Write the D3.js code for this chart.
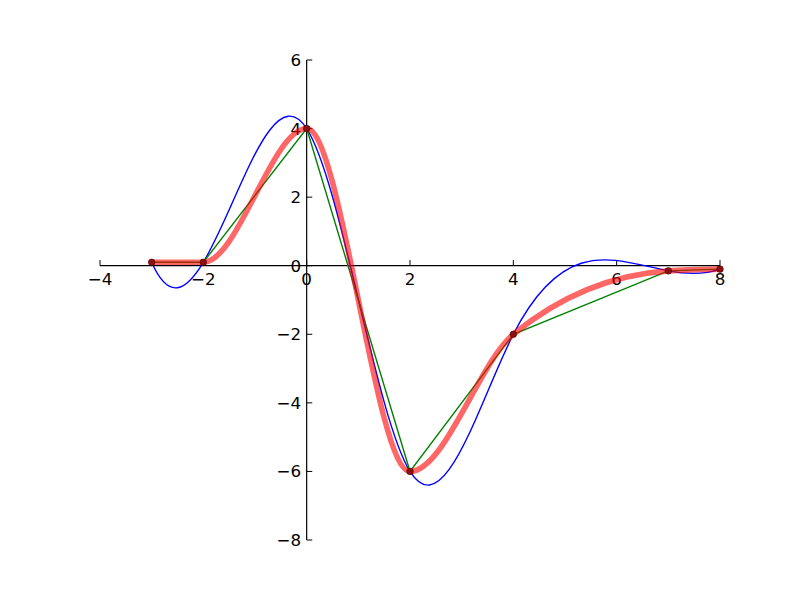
<!DOCTYPE html>
<html><head><meta charset="utf-8">
<script src="https://cdn.jsdelivr.net/npm/d3@7"></script>
<style>body{margin:0;background:#fff}svg{display:block}</style>
</head><body>
<script>
const xs = [-3, -2, 0, 2, 4, 7, 8];
const ys = [0.1, 0.1, 4, -6, -2, -0.15, -0.1];
const xTicks = [-4, -2, 0, 2, 4, 6, 8];
const yTicks = [-8, -6, -4, -2, 0, 2, 4, 6];

// custom D3 curve: not-a-knot cubic spline
function CurveNotAKnot(context) { this._context = context; }
CurveNotAKnot.prototype = {
  areaStart() { this._line = 0; },
  areaEnd() { this._line = NaN; },
  lineStart() { this._x = []; this._y = []; },
  point(px, py) { this._x.push(+px); this._y.push(+py); },
  lineEnd() {
    const X = this._x, Y = this._y, n = X.length, c = this._context;
    if (n < 4) { c.moveTo(X[0], Y[0]); for (let i = 1; i < n; i++) c.lineTo(X[i], Y[i]); return; }
    const h = []; for (let i = 0; i < n - 1; i++) h.push(X[i + 1] - X[i]);
    const A = Array.from({length: n}, () => new Array(n + 1).fill(0));
    A[0][0] = h[1]; A[0][1] = -(h[0] + h[1]); A[0][2] = h[0];
    for (let i = 1; i < n - 1; i++) {
      A[i][i - 1] = h[i - 1]; A[i][i] = 2 * (h[i - 1] + h[i]); A[i][i + 1] = h[i];
      A[i][n] = 6 * ((Y[i + 1] - Y[i]) / h[i] - (Y[i] - Y[i - 1]) / h[i - 1]);
    }
    A[n - 1][n - 3] = h[n - 2]; A[n - 1][n - 2] = -(h[n - 3] + h[n - 2]); A[n - 1][n - 1] = h[n - 3];
    for (let col = 0; col < n; col++) {
      let p = col; for (let r = col + 1; r < n; r++) if (Math.abs(A[r][col]) > Math.abs(A[p][col])) p = r;
      [A[col], A[p]] = [A[p], A[col]];
      for (let r = 0; r < n; r++) if (r !== col) {
        const f = A[r][col] / A[col][col];
        for (let k = col; k <= n; k++) A[r][k] -= f * A[col][k];
      }
    }
    const M = A.map((row, i) => row[n] / row[i]);
    c.moveTo(X[0], Y[0]);
    for (let i = 0; i < n - 1; i++) {
      const s = (Y[i + 1] - Y[i]) / h[i];
      const d0 = s - h[i] * (2 * M[i] + M[i + 1]) / 6;
      const d1 = s + h[i] * (M[i] + 2 * M[i + 1]) / 6;
      c.bezierCurveTo(X[i] + h[i] / 3, Y[i] + d0 * h[i] / 3, X[i + 1] - h[i] / 3, Y[i + 1] - d1 * h[i] / 3, X[i + 1], Y[i + 1]);
    }
  }
};
const curveNotAKnot = ctx => new CurveNotAKnot(ctx);

const W = 800, H = 600;
const svg = d3.select("body").append("svg").attr("width", W).attr("height", H);
const x = d3.scaleLinear().domain([-4, 8]).range([100, 720]);
const y = d3.scaleLinear().domain([-8, 6]).range([540, 60]);
const pts = xs.map((v, i) => [v, ys[i]]);
const line = c => d3.line().x(d => x(d[0])).y(d => y(d[1])).curve(c);

const font = "DejaVu Sans, sans-serif";
const fs = 16.7;
const fmt = v => (v < 0 ? "\u2212" + Math.abs(v) : String(v));

// spines
svg.append("line").attr("x1", x(-4)).attr("x2", x(8)).attr("y1", y(0)).attr("y2", y(0)).attr("stroke", "#000").attr("stroke-width", 1.2);
svg.append("line").attr("x1", x(0)).attr("x2", x(0)).attr("y1", y(-8)).attr("y2", y(6)).attr("stroke", "#000").attr("stroke-width", 1.2);

// x ticks
const gx = svg.append("g");
xTicks.forEach(t => {
  gx.append("line").attr("x1", x(t)).attr("x2", x(t)).attr("y1", y(0)).attr("y2", y(0) - 5.6).attr("stroke", "#000").attr("stroke-width", 1);
  gx.append("text").attr("x", x(t)).attr("y", y(0) + 19).attr("text-anchor", "middle")
    .attr("font-family", font).attr("font-size", fs).text(fmt(t));
});
// y ticks
const gy = svg.append("g");
yTicks.forEach(t => {
  gy.append("line").attr("x1", x(0)).attr("x2", x(0) + 5.6).attr("y1", y(t)).attr("y2", y(t)).attr("stroke", "#000").attr("stroke-width", 1);
  gy.append("text").attr("x", x(0) - 5.6).attr("y", y(t) + 6).attr("text-anchor", "end")
    .attr("font-family", font).attr("font-size", fs).text(fmt(t));
});

// curves
svg.append("path").attr("d", line(curveNotAKnot)(pts)).attr("fill", "none").attr("stroke", "#0000ff").attr("stroke-width", 1.4);
svg.append("path").attr("d", line(d3.curveLinear)(pts)).attr("fill", "none").attr("stroke", "#008000").attr("stroke-width", 1.4);
svg.append("path").attr("d", line(d3.curveMonotoneX)(pts)).attr("fill", "none").attr("stroke", "#ff0000").attr("stroke-opacity", 0.6).attr("stroke-width", 5.6);

svg.selectAll("circle.pt").data(pts).enter().append("circle").attr("class", "pt")
  .attr("cx", d => x(d[0])).attr("cy", d => y(d[1])).attr("r", 3.3)
  .attr("fill", "#8b1010").attr("stroke", "#500000").attr("stroke-width", 0.6);
</script>
</body></html>
